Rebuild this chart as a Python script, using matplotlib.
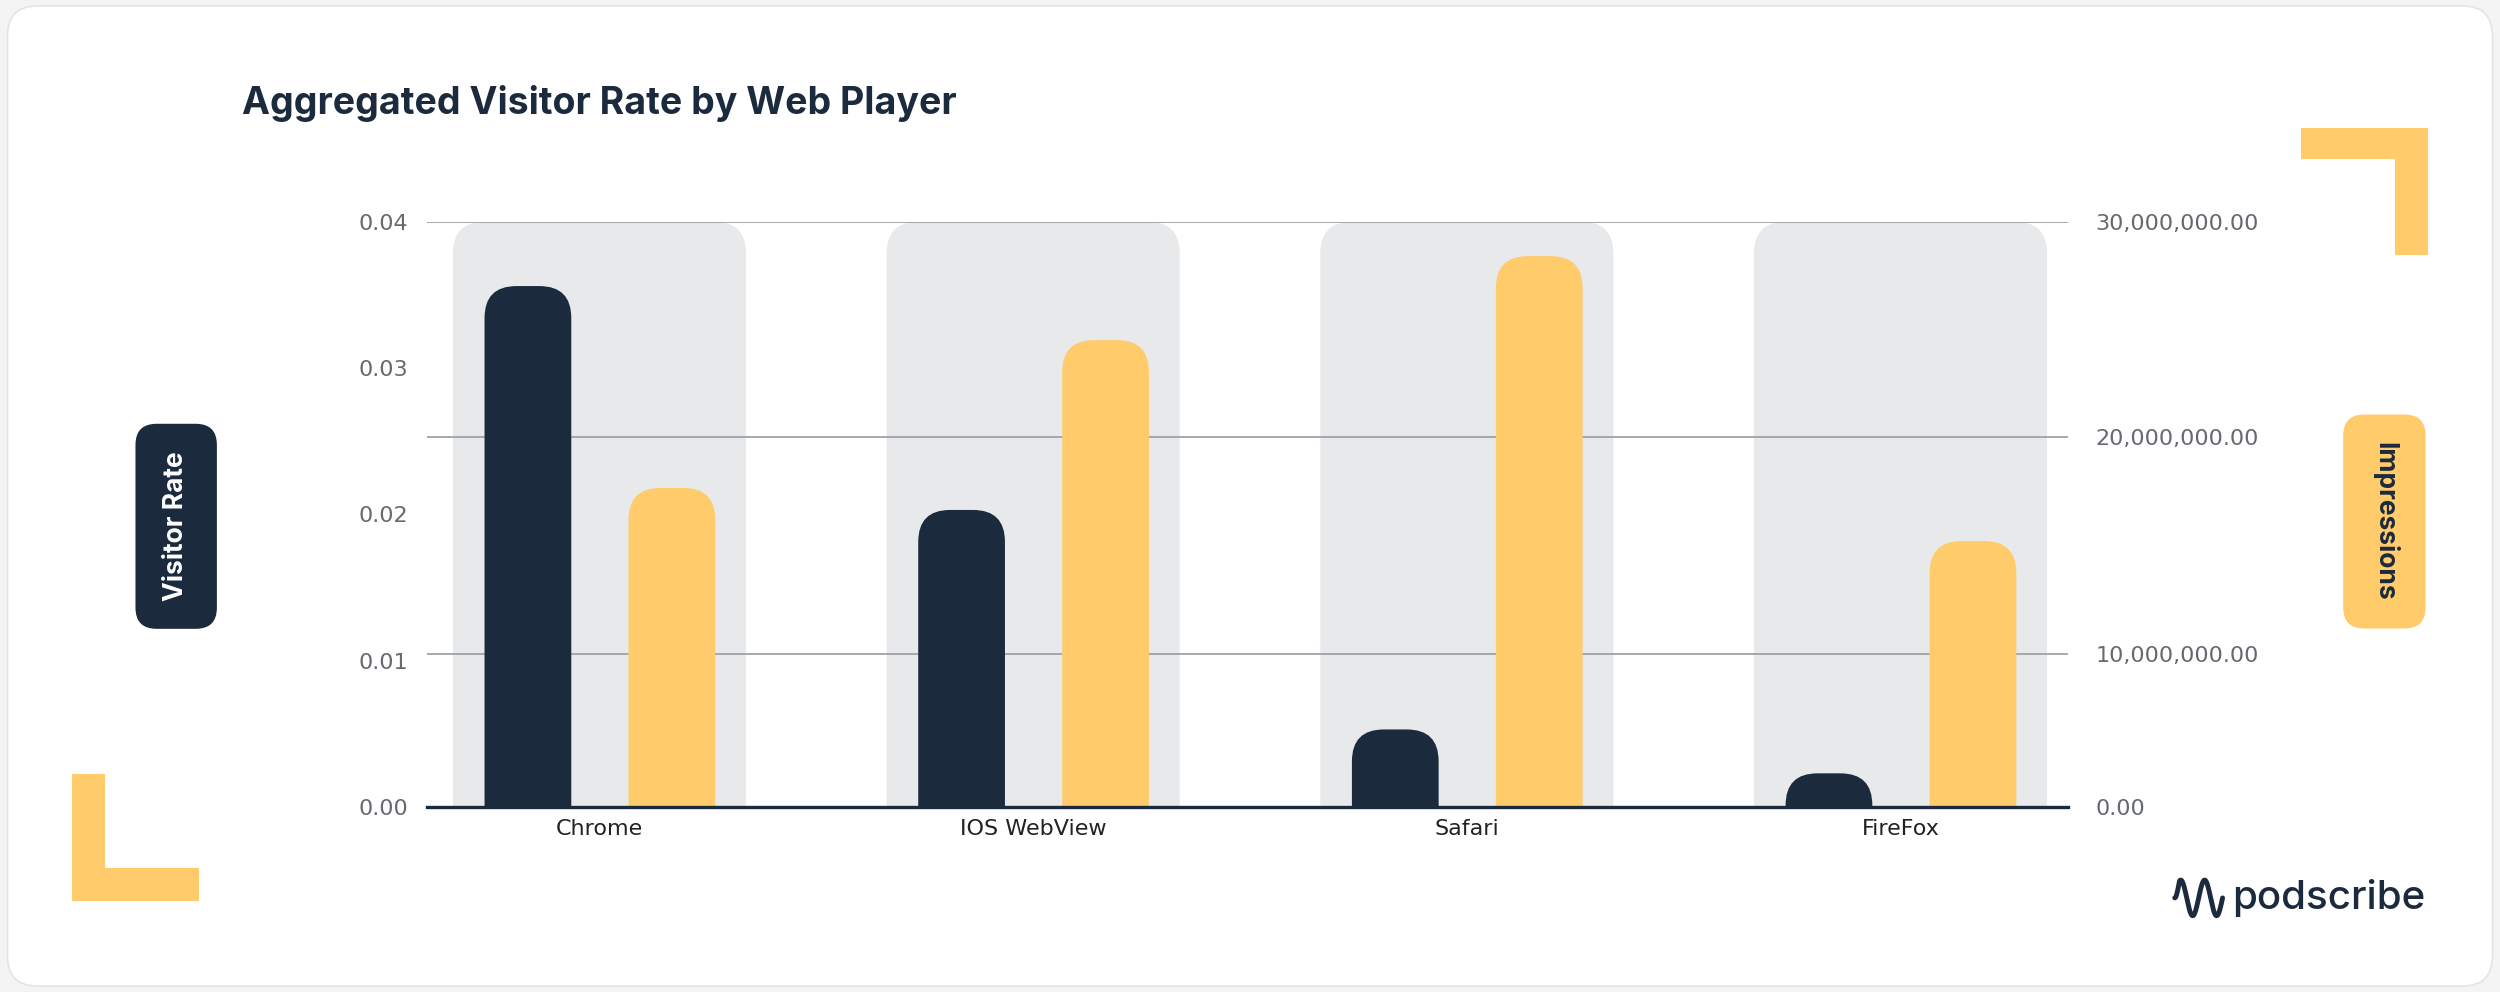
import numpy as np
import matplotlib.pyplot as plt
import matplotlib.transforms as mtransforms
from matplotlib.patches import FancyBboxPatch, Rectangle
from matplotlib.ticker import FuncFormatter

categories = ["Chrome", "IOS WebView", "Safari", "FireFox"]
visitor_rate = [0.0356, 0.0203, 0.0053, 0.0023]
impressions = [17.65e6, 24.5e6, 28.4e6, 15.2e6]
left_ticks = [0, 0.01, 0.02, 0.03, 0.04]
right_ticks = [0, 10e6, 20e6, 30e6]

NAVY = "#1b2a3d"
YELLOW = "#ffcb6b"
PANEL = "#e8e9eb"
W, H = 1568, 622  # reference layout units

# the right axis of the source is not evenly spaced; rebuild it piecewise
R_VALS = np.array([0, 10e6, 20e6, 30e6])
R_POS = np.array([0, 96, 232, 367]) / 367.0


def r_fwd(v):
    v = np.asarray(v, dtype=float)
    inside = np.interp(v, R_VALS, R_POS)
    below = v / 10e6 * R_POS[1]
    above = R_POS[-1] + (v - 30e6) / 10e6 * (R_POS[3] - R_POS[2])
    return np.where(v < 0, below, np.where(v > 30e6, above, inside))


def r_inv(p):
    p = np.asarray(p, dtype=float)
    inside = np.interp(p, R_POS, R_VALS)
    below = p / R_POS[1] * 10e6
    above = 30e6 + (p - R_POS[-1]) / (R_POS[3] - R_POS[2]) * 10e6
    return np.where(p < 0, below, np.where(p > R_POS[-1], above, inside))


def fx(x):
    return x / W


def fy(y):
    return 1 - y / H


fig = plt.figure(figsize=(25, 9.92), dpi=100)
fig.patch.set_facecolor("#f4f4f5")
fig.patches.append(FancyBboxPatch((0.003, 0.006), 0.994, 0.988,
                                  boxstyle="round,pad=0,rounding_size=0.012",
                                  mutation_aspect=2.52, transform=fig.transFigure,
                                  facecolor="white", edgecolor="#e4e4e7", lw=1.2, zorder=-5))

ax = fig.add_axes([fx(268), fy(506), fx(1297) - fx(268), fy(139) - fy(506)])
ax2 = ax.twinx()
ax2.set_yscale("function", functions=(r_fwd, r_inv))
ax.set_xlim(-0.397, 3.386)
ax.set_ylim(0, 0.04)
ax2.set_ylim(0, 30e6)
for a in (ax, ax2):
    a.patch.set_visible(False)
    for s in a.spines.values():
        s.set_visible(False)
    a.tick_params(length=0, labelsize=16, colors="#666a70")
    a.minorticks_off()
ax.set_zorder(1)
ax2.set_zorder(2)

x = np.arange(len(categories))
rad_x = 0.0735
asp_left = 0.00218 / rad_x
asp_right = 1.48e6 / rad_x

pw = 0.676
for xi in x:
    ax.add_patch(FancyBboxPatch((xi - pw / 2, -0.005), pw, 0.045,
                                boxstyle=f"round,pad=0,rounding_size={rad_x}",
                                mutation_aspect=asp_left, facecolor=PANEL, lw=0, zorder=0.5))

# gridlines follow the right axis, drawn above the panels and below the bars
grid_tr = mtransforms.blended_transform_factory(ax.transAxes, ax2.transData)
for yv in right_ticks[1:]:
    ax.plot([0, 1], [yv, yv], transform=grid_tr, color="#9ea3a8", lw=1.3, zorder=1)

bw = 0.2
for xi, v in zip(x, visitor_rate):
    ax.add_patch(FancyBboxPatch((xi - 0.165 - bw / 2, -0.005), bw, v + 0.005,
                                boxstyle=f"round,pad=0,rounding_size={rad_x}",
                                mutation_aspect=asp_left, facecolor=NAVY, lw=0, zorder=2))
for xi, v in zip(x, impressions):
    ax2.add_patch(FancyBboxPatch((xi + 0.167 - bw / 2, -4e6), bw, v + 4e6,
                                 boxstyle=f"round,pad=0,rounding_size={rad_x}",
                                 mutation_aspect=asp_right, facecolor=YELLOW, lw=0, zorder=2))

ax2.axhline(0, color=NAVY, lw=2.4, zorder=3, clip_on=False)

ax.set_xticks(x)
ax.set_xticklabels(categories, fontsize=16, color="#222")
ax.tick_params(axis="x", pad=9)
ax.set_yticks(left_ticks)
ax.yaxis.set_major_formatter(FuncFormatter(lambda v, p: f"{v:.2f}"))
ax.tick_params(axis="y", pad=14)
ax2.set_yticks(right_ticks)
ax2.yaxis.set_major_formatter(FuncFormatter(lambda v, p: f"{v:,.2f}"))
ax2.yaxis.set_minor_locator(plt.NullLocator())
ax2.tick_params(axis="y", pad=20)

fig.text(fx(152), fy(65), "Aggregated Visitor Rate by Web Player", fontsize=27,
         fontweight="bold", color=NAVY, family="Inter", va="center")

fig.text(fx(110.5), fy(330), "Visitor Rate", rotation=90, fontsize=19, fontweight="bold",
         color="white", ha="center", va="center", family="Inter",
         bbox=dict(boxstyle="round,pad=1.05,rounding_size=0.8", fc=NAVY, ec="none"))
fig.text(fx(1495.5), fy(327), "Impressions", rotation=-90, fontsize=19, fontweight="bold",
         color=NAVY, ha="center", va="center", family="Inter",
         bbox=dict(boxstyle="round,pad=1.05,rounding_size=0.8", fc=YELLOW, ec="none"))


# corner brackets
def frect(x0, y0, x1, y1):
    fig.patches.append(Rectangle((fx(x0), fy(y1)), fx(x1) - fx(x0), fy(y0) - fy(y1),
                                 transform=fig.transFigure, facecolor=YELLOW, lw=0))


frect(1443, 80, 1523, 100)
frect(1502, 80, 1523, 160)
frect(45, 485, 66, 565)
frect(45, 544, 125, 565)

# logo
t = np.linspace(0, 1, 200)
wx = fx(1364) + t * (fx(1394) - fx(1364))
wy = fy(563) + 0.018 * np.sin(t * 4 * np.pi) * np.where(t < 0.1, t * 10, 1)
fig.lines.append(plt.Line2D(wx, wy, transform=fig.transFigure, color=NAVY, lw=3.5,
                            solid_capstyle="round"))
fig.text(fx(1400), fy(563), "podscribe", fontsize=29, fontweight="medium",
         color=NAVY, family="Inter", va="center")

fig.savefig("out.png", dpi=100, facecolor=fig.get_facecolor())
